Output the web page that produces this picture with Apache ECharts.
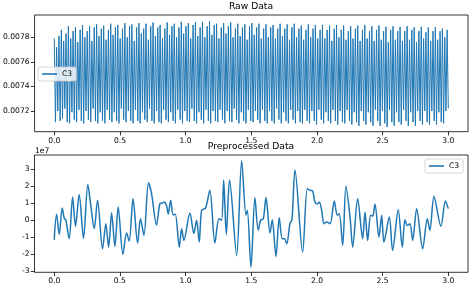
<!DOCTYPE html>
<html>
<head>
<meta charset="utf-8">
<script src="https://cdn.jsdelivr.net/npm/echarts@6/dist/echarts.min.js"></script>
<style>
html, body { margin: 0; padding: 0; background: #fff; }
#chart { width: 474px; height: 289px; }
</style>
</head>
<body>
<div id="chart"></div>
<script>
// raw C3: one peak and one trough per cycle, in units of 1e-6
const rawPeaks = [
  7790, 7720, 7810, 7860, 7770, 7830, 7890, 7790, 7850, 7880, 7760, 7860,
  7900, 7800, 7850, 7890, 7770, 7880, 7905, 7810, 7870, 7895, 7780, 7860,
  7910, 7820, 7880, 7900, 7790, 7870, 7915, 7800, 7890, 7905, 7770, 7880,
  7915, 7830, 7870, 7910, 7780, 7890, 7920, 7810, 7880, 7900, 7790, 7870,
  7920, 7820, 7890, 7910, 7800, 7880, 7925, 7830, 7890, 7915, 7790, 7900,
  7920, 7810, 7880, 7925, 7800, 7890, 7930, 7820, 7900, 7910, 7790, 7880,
  7915, 7830, 7890, 7920, 7800, 7870, 7910, 7810, 7880, 7905, 7780, 7890,
  7915, 7820, 7880, 7910, 7790, 7870, 7905, 7800, 7880, 7900, 7790, 7870,
  7910, 7810, 7870, 7905, 7780, 7880, 7910, 7800, 7870, 7895, 7780, 7860,
  7905, 7800, 7870, 7900, 7790, 7860, 7900, 7790, 7860, 7895, 7770, 7870,
  7900, 7800, 7860, 7895, 7780, 7850, 7890, 7790, 7870, 7895, 7770, 7860,
  7900, 7790, 7850, 7890, 7770, 7860, 7895, 7780, 7850, 7885, 7760, 7860,
  7890, 7780, 7850, 7885, 7770, 7850, 7890, 7780, 7860, 7880, 7760, 7850,
  7885, 7790, 7840, 7880, 7770, 7850, 7880, 7780, 7850, 7870, 7800, 7860
];
const rawTroughs = [
  7110, 7200, 7120, 7140, 7220, 7110, 7100, 7190, 7130, 7110, 7210, 7120,
  7100, 7200, 7130, 7110, 7220, 7120, 7100, 7190, 7120, 7100, 7210, 7130,
  7110, 7190, 7120, 7100, 7220, 7130, 7110, 7200, 7120, 7100, 7210, 7120,
  7100, 7190, 7130, 7110, 7220, 7120, 7100, 7200, 7110, 7100, 7210, 7130,
  7110, 7190, 7120, 7100, 7210, 7130, 7100, 7200, 7120, 7110, 7220, 7120,
  7100, 7190, 7130, 7100, 7210, 7120, 7100, 7200, 7120, 7110, 7210, 7130,
  7100, 7200, 7120, 7110, 7220, 7130, 7100, 7190, 7120, 7100, 7210, 7120,
  7110, 7200, 7130, 7100, 7210, 7120, 7100, 7200, 7120, 7100, 7220, 7130,
  7100, 7190, 7120, 7100, 7210, 7130, 7100, 7200, 7110, 7100, 7210, 7120,
  7100, 7200, 7120, 7090, 7210, 7130, 7100, 7190, 7120, 7100, 7210, 7120,
  7090, 7200, 7110, 7100, 7210, 7120, 7090, 7190, 7110, 7080, 7200, 7120,
  7090, 7190, 7110, 7080, 7210, 7120, 7080, 7200, 7100, 7070, 7210, 7110,
  7080, 7190, 7110, 7090, 7210, 7120, 7080, 7190, 7110, 7080, 7200, 7120,
  7090, 7200, 7110, 7090, 7200, 7120, 7090, 7190, 7110, 7100, 7200, 7220
];
const rawDuration = 3;

// preprocessed C3, values in units of 1e7
const prepTimes = [
  0.000, 0.018, 0.038, 0.061, 0.076, 0.089, 0.114, 0.140, 0.162, 0.190,
  0.223, 0.256, 0.277, 0.305, 0.330, 0.368, 0.393, 0.414, 0.437, 0.462,
  0.487, 0.523, 0.551, 0.571, 0.600, 0.635, 0.657, 0.683, 0.718, 0.741,
  0.779, 0.805, 0.822, 0.838, 0.855, 0.868, 0.886, 0.906, 0.922, 0.952,
  0.970, 0.987, 1.033, 1.063, 1.084, 1.104, 1.122, 1.152, 1.185, 1.223,
  1.254, 1.274, 1.290, 1.310, 1.335, 1.389, 1.427, 1.460, 1.470, 1.498,
  1.528, 1.553, 1.571, 1.592, 1.612, 1.643, 1.660, 1.688, 1.713, 1.736,
  1.752, 1.770, 1.795, 1.810, 1.833, 1.891, 1.927, 1.947, 1.967, 1.985,
  2.003, 2.018, 2.036, 2.054, 2.074, 2.100, 2.132, 2.155, 2.170, 2.196,
  2.221, 2.252, 2.272, 2.310, 2.348, 2.366, 2.386, 2.409, 2.424, 2.442,
  2.472, 2.493, 2.510, 2.551, 2.576, 2.619, 2.650, 2.670, 2.688, 2.708,
  2.729, 2.759, 2.805, 2.840, 2.860, 2.891, 2.944, 2.978, 3.000
];
const prepValues = [
  -1.16, 0.34, -0.85, 0.71, 0.12, -0.02, -1.10, 1.36, -0.37, 1.50,
  -1.08, 2.09, 0.97, -0.51, 1.16, -1.70, -0.22, -1.60, 0.41, -1.56,
  0.77, -2.03, -0.77, -1.24, 1.26, -1.36, 0.08, -0.91, 2.19, 1.56,
  -0.30, 0.97, 1.00, 1.06, 0.85, 0.34, 1.16, 0.30, 0.34, -1.60,
  -0.51, -1.20, 0.41, -0.80, -0.02, -1.30, 0.57, 0.70, 1.76, -1.36,
  0.08, -0.02, 2.35, -0.85, 2.35, -2.09, 3.49, 0.28, 0.57, -2.78,
  1.32, -0.61, -0.02, 0.08, 1.32, -0.77, 0.02, -2.15, 0.14, -1.10,
  -1.10, -1.40, -0.20, 0.00, 2.94, -1.89, 1.85, 1.75, 1.72, 1.06,
  0.95, 1.06, 0.57, -0.22, -0.12, -0.22, 1.12, 0.28, 0.37, -1.50,
  1.99, 0.18, -1.60, 1.26, -1.10, 0.47, -1.20, 0.28, 0.22, 0.93,
  -1.00, 0.28, -1.30, 0.18, -1.80, 0.61, -1.60, 0.02, -0.32, -0.22,
  -1.20, 0.67, -1.70, 0.08, -0.61, 1.40, -0.37, 1.12, 0.67
];

const xTicks = [0, 0.5, 1, 1.5, 2, 2.5, 3];
const rawTicks = [0.0072, 0.0074, 0.0076, 0.0078];
const prepTicks = [-3, -2, -1, 0, 1, 2, 3];

const FONT = 'DejaVu Sans';
const BLUE = '#1f77b4';

const rawData = [];
const nRaw = rawPeaks.length * 2;
rawPeaks.forEach((p, i) => {
  rawData.push([(2 * i) * rawDuration / (nRaw - 1), p / 1e6]);
  rawData.push([(2 * i + 1) * rawDuration / (nRaw - 1), rawTroughs[i] / 1e6]);
});
const prepData = prepTimes.map((t, i) => [t, prepValues[i]]);

function xAxis(gridIndex) {
  return {
    type: 'value', gridIndex: gridIndex, min: -0.15, max: 3.15, position: 'bottom',
    axisLine: { show: false, onZero: false },
    splitLine: { show: false },
    axisTick: { show: true, customValues: xTicks, length: 3.7, lineStyle: { color: '#000', width: 0.8 } },
    axisLabel: {
      customValues: xTicks, margin: 5, color: '#000', fontFamily: FONT, fontSize: 7.6,
      formatter: v => v.toFixed(1)
    }
  };
}

function yAxis(gridIndex, min, max, ticks, fmt) {
  return {
    type: 'value', gridIndex: gridIndex, min: min, max: max, position: 'left',
    axisLine: { show: false, onZero: false },
    splitLine: { show: false },
    axisTick: { show: true, customValues: ticks, length: 3.7, lineStyle: { color: '#000', width: 0.8 } },
    axisLabel: {
      customValues: ticks, margin: 5, color: '#000', fontFamily: FONT, fontSize: 7.6,
      formatter: fmt
    }
  };
}

function legend(left, top) {
  return {
    data: ['C3'], left: left, top: top, orient: 'horizontal',
    icon: 'rect', itemWidth: 15, itemHeight: 1.6,
    padding: [3, 4, 3, 4],
    borderColor: '#cccccc', borderWidth: 0.8, borderRadius: 2,
    backgroundColor: 'rgba(255,255,255,0.8)',
    selectedMode: false,
    textStyle: { color: '#000', fontFamily: FONT, fontSize: 7.6 }
  };
}

const chart = echarts.init(document.getElementById('chart'));
chart.setOption({
  animation: false,
  backgroundColor: '#fff',
  grid: [
    { left: 34.5, top: 15, width: 433.5, height: 116.7, show: true, borderColor: '#000', borderWidth: 0.8, backgroundColor: 'transparent' },
    { left: 34.5, top: 155, width: 433.5, height: 117.3, show: true, borderColor: '#000', borderWidth: 0.8, backgroundColor: 'transparent' }
  ],
  xAxis: [xAxis(0), xAxis(1)],
  yAxis: [
    yAxis(0, 0.007032, 0.007981, rawTicks, v => v.toFixed(4)),
    yAxis(1, -3.08, 3.83, prepTicks, v => String(Math.round(v)))
  ],
  legend: [legend(38, 67), legend(425, 159)],
  graphic: [
    { type: 'text', style: { x: 251, y: 7, text: 'Raw Data', align: 'center', verticalAlign: 'middle', fill: '#000', fontFamily: FONT, fontSize: 9.2 } },
    { type: 'text', style: { x: 251, y: 147, text: 'Preprocessed Data', align: 'center', verticalAlign: 'middle', fill: '#000', fontFamily: FONT, fontSize: 9.2 } },
    { type: 'text', style: { x: 35, y: 151, text: '1e7', align: 'left', verticalAlign: 'middle', fill: '#000', fontFamily: FONT, fontSize: 7.6 } }
  ],
  series: [
    {
      name: 'C3', type: 'line', xAxisIndex: 0, yAxisIndex: 0, data: rawData,
      showSymbol: false, color: BLUE, lineStyle: { color: BLUE, width: 1.0 }
    },
    {
      name: 'C3', type: 'line', xAxisIndex: 1, yAxisIndex: 1, data: prepData,
      showSymbol: false, smooth: 0.3, color: BLUE, lineStyle: { color: BLUE, width: 1.5 }
    }
  ]
});
</script>
</body>
</html>
